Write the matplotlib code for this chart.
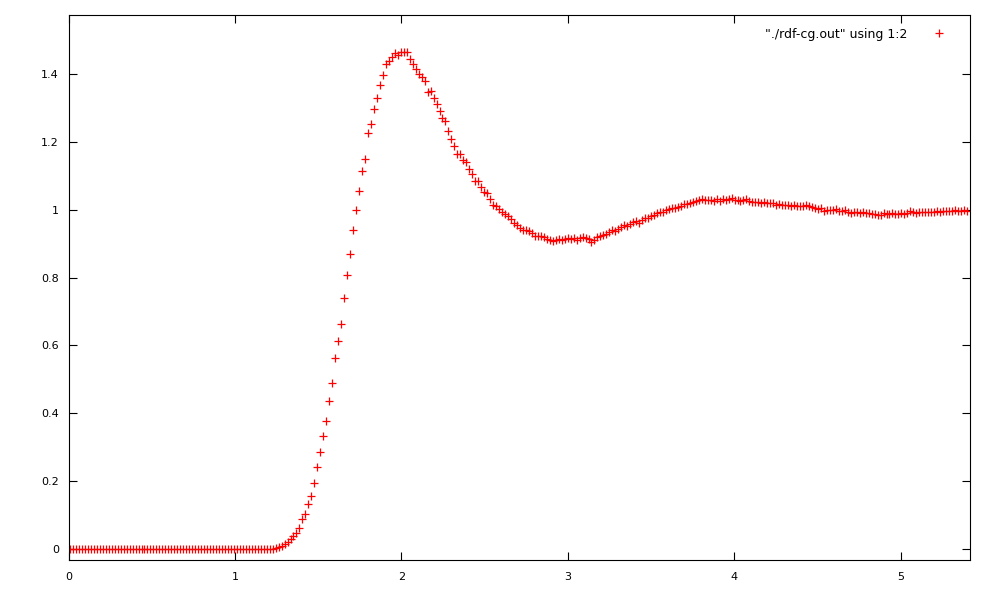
import matplotlib
matplotlib.use('Agg')
import matplotlib.pyplot as plt
import numpy as np
from matplotlib.ticker import FuncFormatter

# bin width of the rdf (read from point spacing)
dr = 0.0179

# g(r) values, one per bin
g_flat = [0.0] * 64
g_rise = [0.000, 0.000, 0.000, 0.000, 0.001, 0.003, 0.005, 0.009, 0.015, 0.021,
          0.029, 0.038, 0.046, 0.061, 0.087, 0.103, 0.132, 0.155, 0.194, 0.241,
          0.285, 0.332, 0.376, 0.435, 0.488, 0.563, 0.612, 0.664, 0.739, 0.807,
          0.871, 0.939, 0.998, 1.056, 1.113, 1.151, 1.225, 1.252, 1.296, 1.328,
          1.368, 1.397, 1.429, 1.439, 1.451, 1.461, 1.457, 1.465, 1.465, 1.465]
g_fall = [1.443, 1.429, 1.415, 1.399, 1.392, 1.380, 1.346, 1.350, 1.330, 1.312,
          1.291, 1.271, 1.261, 1.233, 1.208, 1.188, 1.165, 1.163, 1.147, 1.141,
          1.119, 1.106, 1.085, 1.085, 1.068, 1.052, 1.048, 1.032, 1.015, 1.012,
          1.002, 0.993, 0.988, 0.981, 0.972, 0.961, 0.954, 0.947, 0.941, 0.941,
          0.936, 0.930, 0.923, 0.923, 0.923, 0.920, 0.913, 0.911, 0.908]
g_min = [0.912, 0.915, 0.910, 0.914, 0.917, 0.913, 0.916, 0.912, 0.918, 0.920,
         0.917, 0.914, 0.905, 0.912, 0.921, 0.924, 0.926, 0.928, 0.935, 0.941,
         0.936, 0.944, 0.950, 0.955, 0.951, 0.958, 0.963, 0.966, 0.962, 0.970,
         0.975, 0.977, 0.982, 0.984, 0.990, 0.994, 0.992, 0.998, 1.003, 1.006,
         1.004, 1.009, 1.012, 1.018, 1.016]
g_second = [1.021, 1.024, 1.026, 1.028, 1.031, 1.029, 1.030, 1.028, 1.025, 1.031,
            1.027, 1.033, 1.028, 1.032, 1.034, 1.030, 1.028, 1.027, 1.029, 1.031,
            1.027, 1.024, 1.022, 1.023, 1.021, 1.022, 1.020, 1.021, 1.019, 1.015,
            1.016, 1.014, 1.015, 1.013, 1.012, 1.013, 1.011, 1.012, 1.011, 1.013,
            1.011, 1.007, 1.005, 1.002, 1.004, 0.995, 1.000]
g_tail = [1.000, 0.999, 1.001, 0.997, 0.996, 0.998, 0.994, 0.990, 0.993, 0.994,
          0.990, 0.992, 0.989, 0.990, 0.987, 0.988, 0.985, 0.984, 0.990, 0.988,
          0.986, 0.990, 0.987, 0.988, 0.990, 0.988, 0.991, 0.996, 0.993, 0.991,
          0.993, 0.992, 0.994, 0.993, 0.994, 0.993, 0.995, 0.994, 0.996, 0.995,
          0.997, 0.996, 0.999, 0.997, 0.995, 0.998, 0.997]

g = np.array(g_flat + g_rise + g_fall + g_min + g_second + g_tail)
r = (np.arange(len(g)) + 0.5) * dr

xticks = [0, 1, 2, 3, 4, 5]
yticks = [0, 0.2, 0.4, 0.6, 0.8, 1.0, 1.2, 1.4]

fig = plt.figure(figsize=(9.91, 5.95), dpi=100)
ax = fig.add_axes([68.5/991, 35/595, 901.5/991, 545/595])

ax.plot(r, g, lw=0, marker='+', color='#ff0000', markersize=5.5, markeredgewidth=0.9,
        label='"./rdf-cg.out" using 1:2')

ax.set_xlim(0, 5.415)
ax.set_ylim(-0.0324, 1.574)
ax.set_xticks(xticks)
ax.set_yticks(yticks)
ax.xaxis.set_major_formatter(FuncFormatter(lambda v, p: '%g' % v))
ax.yaxis.set_major_formatter(FuncFormatter(lambda v, p: '%g' % v))
ax.tick_params(direction='in', length=6, width=0.8, top=True, right=True, labelsize=8)
ax.tick_params(axis='x', pad=9)
ax.tick_params(axis='y', pad=7)
for s in ax.spines.values():
    s.set_linewidth(0.8)

leg = ax.legend(loc='upper right', bbox_to_anchor=(0.9875, 0.995), frameon=False, markerfirst=False,
                fontsize=9, handlelength=1.5, handletextpad=1.8, borderpad=0.3)
leg.legend_handles[0].set_markersize(5.2)

fig.savefig('out.png', dpi=100)
